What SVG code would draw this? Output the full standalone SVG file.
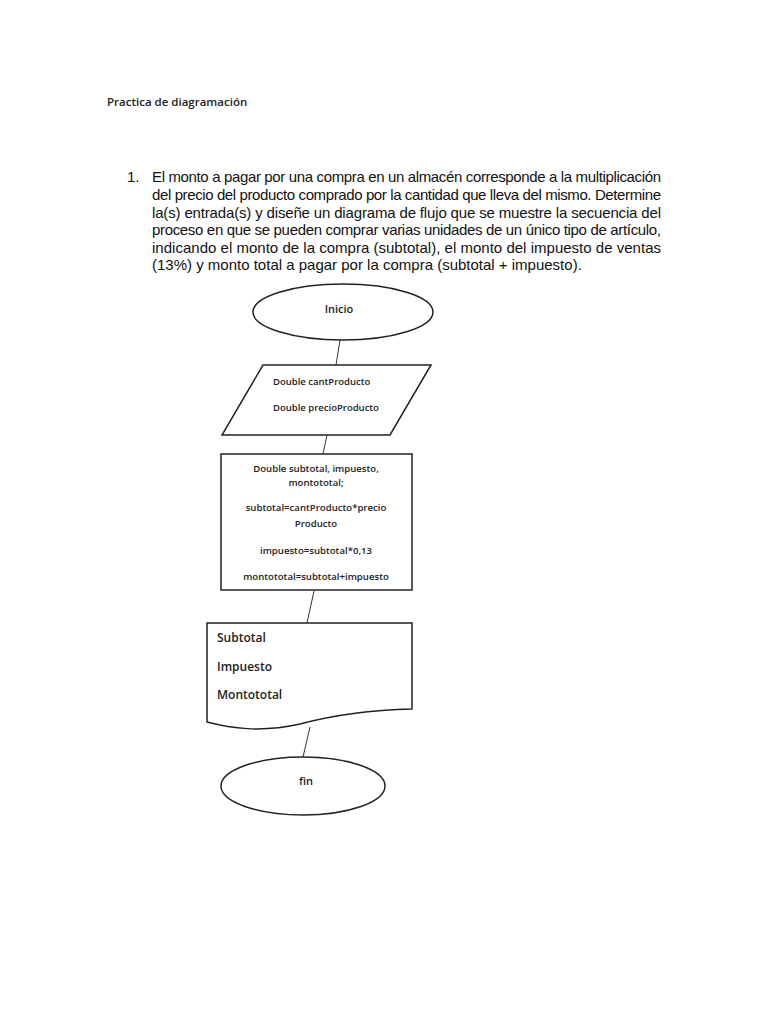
<svg xmlns="http://www.w3.org/2000/svg" width="768" height="1024" viewBox="0 0 768 1024">
<style>
.shape{fill:#fff;stroke:#222;stroke-width:1.5}
.conn{stroke:#333;stroke-width:1;fill:none}
.c{font-family:"Open Sans","Liberation Sans",sans-serif;fill:#222}
.p{font-family:"Liberation Sans",Arial,sans-serif;font-size:15px;fill:#111}
</style>
<rect width="768" height="1024" fill="#fff"/>
<text class="c" x="107" y="106" font-size="11.5" font-weight="600">Practica de diagramación</text>
<g id="enunciado">
<text class="p" x="127" y="182">1.</text>
<text class="p" x="152" y="182" textLength="509" lengthAdjust="spacing">El monto a pagar por una compra en un almacén corresponde a la multiplicación</text>
<text class="p" x="152" y="200" textLength="509" lengthAdjust="spacing">del precio del producto comprado por la cantidad que lleva del mismo. Determine</text>
<text class="p" x="152" y="218" textLength="509" lengthAdjust="spacing">la(s) entrada(s) y diseñe un diagrama de flujo que se muestre la secuencia del</text>
<text class="p" x="152" y="235" textLength="509" lengthAdjust="spacing">proceso en que se pueden comprar varias unidades de un único tipo de artículo,</text>
<text class="p" x="152" y="253" textLength="509" lengthAdjust="spacing">indicando el monto de la compra (subtotal), el monto del impuesto de ventas</text>
<text class="p" x="152" y="270">(13%) y monto total a pagar por la compra (subtotal + impuesto).</text>
</g>
<g id="connectors">
<line class="conn" x1="340" y1="340" x2="336" y2="365"/>
<line class="conn" x1="327" y1="435" x2="323" y2="454"/>
<line class="conn" x1="314" y1="591" x2="307" y2="623"/>
<line class="conn" x1="310" y1="727" x2="303" y2="757"/>
</g>
<g id="inicio">
<ellipse class="shape" cx="343" cy="312" rx="90" ry="28"/>
<text class="c" x="339" y="313" font-size="11" font-weight="600" text-anchor="middle">Inicio</text>
</g>
<g id="entrada">
<polygon class="shape" points="263,365 431,365 390,435 222,435"/>
<text class="c" x="273" y="385" font-size="9.5" font-weight="600">Double cantProducto</text>
<text class="c" x="273" y="411" font-size="9.5" font-weight="600">Double precioProducto</text>
</g>
<g id="proceso">
<rect class="shape" x="221" y="454" width="191" height="136"/>
<g class="c" font-size="9.6" font-weight="600" text-anchor="middle">
<text x="316" y="472">Double subtotal, impuesto,</text>
<text x="316" y="486">montototal;</text>
<text x="316" y="511">subtotal=cantProducto*precio</text>
<text x="316" y="527">Producto</text>
<text x="316" y="554">impuesto=subtotal*0,13</text>
<text x="316" y="580">montototal=subtotal+impuesto</text>
</g>
</g>
<g id="salida">
<path class="shape" d="M207,623 H412 V709 C370,710 330,716 300,724 C260,733 230,728 207,722 Z"/>
<g class="c" font-size="12" font-weight="600">
<text x="217" y="642">Subtotal</text>
<text x="217" y="671">Impuesto</text>
<text x="217" y="699">Montototal</text>
</g>
</g>
<g id="fin">
<ellipse class="shape" cx="303" cy="786" rx="82" ry="29"/>
<text class="c" x="306" y="785" font-size="11" font-weight="600" text-anchor="middle">fin</text>
</g>
</svg>
